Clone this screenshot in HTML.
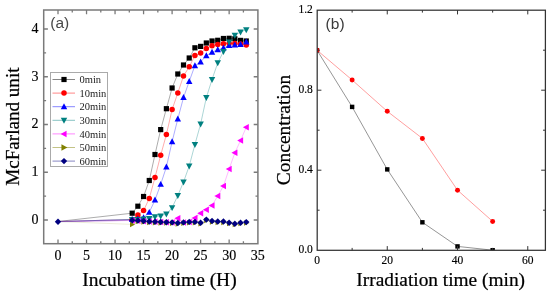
<!DOCTYPE html><html><head><meta charset="utf-8"><style>html,body{margin:0;padding:0;background:#fff;width:550px;height:294px;overflow:hidden}svg{display:block}text{font-family:"Liberation Serif","Times New Roman",serif;stroke-width:0.15px}text.t{stroke-width:0.24px}</style></head><body>
<svg width="550" height="294" viewBox="0 0 550 294">
<rect width="550" height="294" fill="#fff"/>
<defs><clipPath id="ca"><rect x="43.7" y="10.0" width="214.2" height="233.7"/></clipPath><clipPath id="cb"><rect x="317" y="10" width="228.4" height="240.2"/></clipPath></defs>
<g clip-path="url(#ca)">
<polyline points="58.00,221.50 132.17,213.20 137.87,206.20 143.57,196.50 149.28,180.50 154.99,154.50 160.69,129.60 166.39,108.70 172.10,88.00 177.81,74.00 183.51,65.00 189.22,58.00 194.92,47.80 200.62,46.40 206.33,43.00 212.03,41.00 217.74,40.30 223.44,38.50 229.15,38.30 234.85,38.80 240.56,40.40 246.27,41.00" fill="none" stroke="#000000" stroke-width="0.6" stroke-opacity="0.55"/>
<polyline points="58.00,221.50 132.17,219.50 137.87,215.00 143.57,210.60 149.28,198.40 154.99,177.50 160.69,155.30 166.39,134.50 172.10,109.60 177.81,93.00 183.51,76.00 189.22,66.80 194.92,55.60 200.62,53.00 206.33,48.40 212.03,45.80 217.74,44.50 223.44,43.80 229.15,43.20 234.85,43.50 240.56,44.00 246.27,45.00" fill="none" stroke="#ff0000" stroke-width="0.6" stroke-opacity="0.55"/>
<polyline points="58.00,221.50 132.17,219.50 137.87,219.00 143.57,217.70 149.28,212.30 154.99,200.00 160.69,184.30 166.39,167.00 172.10,141.70 177.81,119.00 183.51,97.50 189.22,81.40 194.92,65.60 200.62,61.90 206.33,55.70 212.03,52.20 217.74,49.70 223.44,48.00 229.15,45.40 234.85,45.00 240.56,44.50 246.27,42.00" fill="none" stroke="#0000ff" stroke-width="0.6" stroke-opacity="0.55"/>
<polyline points="58.00,221.50 132.17,219.50 137.87,219.50 143.57,219.00 149.28,218.50 154.99,216.80 160.69,216.00 166.39,214.00 172.10,207.70 177.81,195.60 183.51,182.00 189.22,166.00 194.92,144.50 200.62,124.00 206.33,97.60 212.03,79.50 217.74,62.90 223.44,51.50 229.15,42.00 234.85,35.30 240.56,32.00 246.27,29.80" fill="none" stroke="#008080" stroke-width="0.6" stroke-opacity="0.55"/>
<polyline points="58.00,221.50 132.17,220.50 137.87,220.80 143.57,221.20 149.28,221.50 154.99,221.80 160.69,222.00 166.39,222.20 172.10,222.40 177.81,218.20 183.51,222.40 189.22,221.90 194.92,217.90 200.62,213.20 206.33,209.70 212.03,205.50 217.74,196.00 223.44,186.00 229.15,169.00 234.85,152.80 240.56,140.50 246.27,127.20" fill="none" stroke="#ff00ff" stroke-width="0.6" stroke-opacity="0.45"/>
<polyline points="58.00,221.50 132.17,224.40 137.87,221.40 143.57,221.90 149.28,222.40 154.99,222.70 160.69,222.90 166.39,223.10 172.10,223.30 177.81,223.90 183.51,223.30 189.22,222.80 194.92,222.80 200.62,223.70 206.33,220.50 212.03,221.90 217.74,222.40 223.44,222.40 229.15,223.60 234.85,224.60 240.56,223.60 246.27,223.00" fill="none" stroke="#808000" stroke-width="0.6" stroke-opacity="0.25"/>
<polyline points="58.00,221.80 132.17,220.30 137.87,220.50 143.57,221.00 149.28,221.50 154.99,221.80 160.69,222.00 166.39,222.20 172.10,222.40 177.81,223.00 183.51,222.40 189.22,221.90 194.92,221.90 200.62,222.80 206.33,219.60 212.03,221.00 217.74,221.50 223.44,221.50 229.15,222.70 234.85,223.70 240.56,222.70 246.27,222.10" fill="none" stroke="#000080" stroke-width="0.6" stroke-opacity="0.3"/>
<rect x="129.57" y="210.60" width="5.20" height="5.20" fill="#000000"/>
<rect x="135.27" y="203.60" width="5.20" height="5.20" fill="#000000"/>
<rect x="140.97" y="193.90" width="5.20" height="5.20" fill="#000000"/>
<rect x="146.68" y="177.90" width="5.20" height="5.20" fill="#000000"/>
<rect x="152.39" y="151.90" width="5.20" height="5.20" fill="#000000"/>
<rect x="158.09" y="127.00" width="5.20" height="5.20" fill="#000000"/>
<rect x="163.79" y="106.10" width="5.20" height="5.20" fill="#000000"/>
<rect x="169.50" y="85.40" width="5.20" height="5.20" fill="#000000"/>
<rect x="175.21" y="71.40" width="5.20" height="5.20" fill="#000000"/>
<rect x="180.91" y="62.40" width="5.20" height="5.20" fill="#000000"/>
<rect x="186.62" y="55.40" width="5.20" height="5.20" fill="#000000"/>
<rect x="192.32" y="45.20" width="5.20" height="5.20" fill="#000000"/>
<rect x="198.03" y="43.80" width="5.20" height="5.20" fill="#000000"/>
<rect x="203.73" y="40.40" width="5.20" height="5.20" fill="#000000"/>
<rect x="209.44" y="38.40" width="5.20" height="5.20" fill="#000000"/>
<rect x="215.14" y="37.70" width="5.20" height="5.20" fill="#000000"/>
<rect x="220.84" y="35.90" width="5.20" height="5.20" fill="#000000"/>
<rect x="226.55" y="35.70" width="5.20" height="5.20" fill="#000000"/>
<rect x="232.25" y="36.20" width="5.20" height="5.20" fill="#000000"/>
<rect x="237.96" y="37.80" width="5.20" height="5.20" fill="#000000"/>
<rect x="243.67" y="38.40" width="5.20" height="5.20" fill="#000000"/>
<circle cx="132.17" cy="219.50" r="2.75" fill="#ff0000"/>
<circle cx="137.87" cy="215.00" r="2.75" fill="#ff0000"/>
<circle cx="143.57" cy="210.60" r="2.75" fill="#ff0000"/>
<circle cx="149.28" cy="198.40" r="2.75" fill="#ff0000"/>
<circle cx="154.99" cy="177.50" r="2.75" fill="#ff0000"/>
<circle cx="160.69" cy="155.30" r="2.75" fill="#ff0000"/>
<circle cx="166.39" cy="134.50" r="2.75" fill="#ff0000"/>
<circle cx="172.10" cy="109.60" r="2.75" fill="#ff0000"/>
<circle cx="177.81" cy="93.00" r="2.75" fill="#ff0000"/>
<circle cx="183.51" cy="76.00" r="2.75" fill="#ff0000"/>
<circle cx="189.22" cy="66.80" r="2.75" fill="#ff0000"/>
<circle cx="194.92" cy="55.60" r="2.75" fill="#ff0000"/>
<circle cx="200.62" cy="53.00" r="2.75" fill="#ff0000"/>
<circle cx="206.33" cy="48.40" r="2.75" fill="#ff0000"/>
<circle cx="212.03" cy="45.80" r="2.75" fill="#ff0000"/>
<circle cx="217.74" cy="44.50" r="2.75" fill="#ff0000"/>
<circle cx="223.44" cy="43.80" r="2.75" fill="#ff0000"/>
<circle cx="229.15" cy="43.20" r="2.75" fill="#ff0000"/>
<circle cx="234.85" cy="43.50" r="2.75" fill="#ff0000"/>
<circle cx="240.56" cy="44.00" r="2.75" fill="#ff0000"/>
<circle cx="246.27" cy="45.00" r="2.75" fill="#ff0000"/>
<polygon points="132.17,216.10 135.40,222.05 128.94,222.05" fill="#0000ff"/>
<polygon points="137.87,215.60 141.10,221.55 134.64,221.55" fill="#0000ff"/>
<polygon points="143.57,214.30 146.80,220.25 140.34,220.25" fill="#0000ff"/>
<polygon points="149.28,208.90 152.51,214.85 146.05,214.85" fill="#0000ff"/>
<polygon points="154.99,196.60 158.22,202.55 151.76,202.55" fill="#0000ff"/>
<polygon points="160.69,180.90 163.92,186.85 157.46,186.85" fill="#0000ff"/>
<polygon points="166.39,163.60 169.62,169.55 163.16,169.55" fill="#0000ff"/>
<polygon points="172.10,138.30 175.33,144.25 168.87,144.25" fill="#0000ff"/>
<polygon points="177.81,115.60 181.03,121.55 174.58,121.55" fill="#0000ff"/>
<polygon points="183.51,94.10 186.74,100.05 180.28,100.05" fill="#0000ff"/>
<polygon points="189.22,78.00 192.44,83.95 185.99,83.95" fill="#0000ff"/>
<polygon points="194.92,62.20 198.15,68.15 191.69,68.15" fill="#0000ff"/>
<polygon points="200.62,58.50 203.85,64.45 197.40,64.45" fill="#0000ff"/>
<polygon points="206.33,52.30 209.56,58.25 203.10,58.25" fill="#0000ff"/>
<polygon points="212.03,48.80 215.26,54.75 208.81,54.75" fill="#0000ff"/>
<polygon points="217.74,46.30 220.97,52.25 214.51,52.25" fill="#0000ff"/>
<polygon points="223.44,44.60 226.67,50.55 220.22,50.55" fill="#0000ff"/>
<polygon points="229.15,42.00 232.38,47.95 225.92,47.95" fill="#0000ff"/>
<polygon points="234.85,41.60 238.08,47.55 231.62,47.55" fill="#0000ff"/>
<polygon points="240.56,41.10 243.79,47.05 237.33,47.05" fill="#0000ff"/>
<polygon points="246.27,38.60 249.50,44.55 243.04,44.55" fill="#0000ff"/>
<polygon points="132.17,222.90 135.40,216.95 128.94,216.95" fill="#008080"/>
<polygon points="137.87,222.90 141.10,216.95 134.64,216.95" fill="#008080"/>
<polygon points="143.57,222.40 146.80,216.45 140.34,216.45" fill="#008080"/>
<polygon points="149.28,221.90 152.51,215.95 146.05,215.95" fill="#008080"/>
<polygon points="154.99,220.20 158.22,214.25 151.76,214.25" fill="#008080"/>
<polygon points="160.69,219.40 163.92,213.45 157.46,213.45" fill="#008080"/>
<polygon points="166.39,217.40 169.62,211.45 163.16,211.45" fill="#008080"/>
<polygon points="172.10,211.10 175.33,205.15 168.87,205.15" fill="#008080"/>
<polygon points="177.81,199.00 181.03,193.05 174.58,193.05" fill="#008080"/>
<polygon points="183.51,185.40 186.74,179.45 180.28,179.45" fill="#008080"/>
<polygon points="189.22,169.40 192.44,163.45 185.99,163.45" fill="#008080"/>
<polygon points="194.92,147.90 198.15,141.95 191.69,141.95" fill="#008080"/>
<polygon points="200.62,127.40 203.85,121.45 197.40,121.45" fill="#008080"/>
<polygon points="206.33,101.00 209.56,95.05 203.10,95.05" fill="#008080"/>
<polygon points="212.03,82.90 215.26,76.95 208.81,76.95" fill="#008080"/>
<polygon points="217.74,66.30 220.97,60.35 214.51,60.35" fill="#008080"/>
<polygon points="223.44,54.90 226.67,48.95 220.22,48.95" fill="#008080"/>
<polygon points="229.15,45.40 232.38,39.45 225.92,39.45" fill="#008080"/>
<polygon points="234.85,38.70 238.08,32.75 231.62,32.75" fill="#008080"/>
<polygon points="240.56,35.40 243.79,29.45 237.33,29.45" fill="#008080"/>
<polygon points="246.27,33.20 249.50,27.25 243.04,27.25" fill="#008080"/>
<polygon points="128.77,220.50 134.72,217.27 134.72,223.73" fill="#ff00ff"/>
<polygon points="134.47,220.80 140.42,217.57 140.42,224.03" fill="#ff00ff"/>
<polygon points="140.17,221.20 146.12,217.97 146.12,224.43" fill="#ff00ff"/>
<polygon points="145.88,221.50 151.83,218.27 151.83,224.73" fill="#ff00ff"/>
<polygon points="151.59,221.80 157.54,218.57 157.54,225.03" fill="#ff00ff"/>
<polygon points="157.29,222.00 163.24,218.77 163.24,225.23" fill="#ff00ff"/>
<polygon points="162.99,222.20 168.94,218.97 168.94,225.43" fill="#ff00ff"/>
<polygon points="168.70,222.40 174.65,219.17 174.65,225.63" fill="#ff00ff"/>
<polygon points="174.41,218.20 180.36,214.97 180.36,221.43" fill="#ff00ff"/>
<polygon points="180.11,222.40 186.06,219.17 186.06,225.63" fill="#ff00ff"/>
<polygon points="185.81,221.90 191.77,218.67 191.77,225.13" fill="#ff00ff"/>
<polygon points="191.52,217.90 197.47,214.67 197.47,221.13" fill="#ff00ff"/>
<polygon points="197.22,213.20 203.18,209.97 203.18,216.43" fill="#ff00ff"/>
<polygon points="202.93,209.70 208.88,206.47 208.88,212.93" fill="#ff00ff"/>
<polygon points="208.63,205.50 214.59,202.27 214.59,208.73" fill="#ff00ff"/>
<polygon points="214.34,196.00 220.29,192.77 220.29,199.23" fill="#ff00ff"/>
<polygon points="220.04,186.00 226.00,182.77 226.00,189.23" fill="#ff00ff"/>
<polygon points="225.75,169.00 231.70,165.77 231.70,172.23" fill="#ff00ff"/>
<polygon points="231.45,152.80 237.41,149.57 237.41,156.03" fill="#ff00ff"/>
<polygon points="237.16,140.50 243.11,137.27 243.11,143.73" fill="#ff00ff"/>
<polygon points="242.87,127.20 248.82,123.97 248.82,130.43" fill="#ff00ff"/>
<polygon points="135.06,224.40 130.00,221.65 130.00,227.15" fill="#808000"/>
<polygon points="140.76,221.40 135.70,218.65 135.70,224.15" fill="#808000"/>
<polygon points="146.46,221.90 141.41,219.15 141.41,224.65" fill="#808000"/>
<polygon points="152.17,222.40 147.11,219.65 147.11,225.15" fill="#808000"/>
<polygon points="157.88,222.70 152.82,219.95 152.82,225.45" fill="#808000"/>
<polygon points="163.58,222.90 158.52,220.15 158.52,225.65" fill="#808000"/>
<polygon points="169.28,223.10 164.23,220.35 164.23,225.85" fill="#808000"/>
<polygon points="174.99,223.30 169.93,220.55 169.93,226.05" fill="#808000"/>
<polygon points="180.69,223.90 175.64,221.15 175.64,226.65" fill="#808000"/>
<polygon points="186.40,223.30 181.34,220.55 181.34,226.05" fill="#808000"/>
<polygon points="192.10,222.80 187.05,220.05 187.05,225.55" fill="#808000"/>
<polygon points="197.81,222.80 192.75,220.05 192.75,225.55" fill="#808000"/>
<polygon points="203.51,223.70 198.46,220.95 198.46,226.45" fill="#808000"/>
<polygon points="209.22,220.50 204.16,217.75 204.16,223.25" fill="#808000"/>
<polygon points="214.92,221.90 209.87,219.15 209.87,224.65" fill="#808000"/>
<polygon points="220.63,222.40 215.57,219.65 215.57,225.15" fill="#808000"/>
<polygon points="226.33,222.40 221.28,219.65 221.28,225.15" fill="#808000"/>
<polygon points="232.04,223.60 226.98,220.85 226.98,226.35" fill="#808000"/>
<polygon points="237.74,224.60 232.69,221.85 232.69,227.35" fill="#808000"/>
<polygon points="243.45,223.60 238.39,220.85 238.39,226.35" fill="#808000"/>
<polygon points="249.16,223.00 244.10,220.25 244.10,225.75" fill="#808000"/>
<polygon points="58.00,218.60 61.20,221.80 58.00,225.00 54.80,221.80" fill="#000080"/>
<polygon points="132.17,217.10 135.37,220.30 132.17,223.50 128.97,220.30" fill="#000080"/>
<polygon points="137.87,217.30 141.07,220.50 137.87,223.70 134.67,220.50" fill="#000080"/>
<polygon points="143.57,217.80 146.77,221.00 143.57,224.20 140.38,221.00" fill="#000080"/>
<polygon points="149.28,218.30 152.48,221.50 149.28,224.70 146.08,221.50" fill="#000080"/>
<polygon points="154.99,218.60 158.19,221.80 154.99,225.00 151.79,221.80" fill="#000080"/>
<polygon points="160.69,218.80 163.89,222.00 160.69,225.20 157.49,222.00" fill="#000080"/>
<polygon points="166.39,219.00 169.59,222.20 166.39,225.40 163.19,222.20" fill="#000080"/>
<polygon points="172.10,219.20 175.30,222.40 172.10,225.60 168.90,222.40" fill="#000080"/>
<polygon points="177.81,219.80 181.00,223.00 177.81,226.20 174.61,223.00" fill="#000080"/>
<polygon points="183.51,219.20 186.71,222.40 183.51,225.60 180.31,222.40" fill="#000080"/>
<polygon points="189.22,218.70 192.41,221.90 189.22,225.10 186.02,221.90" fill="#000080"/>
<polygon points="194.92,218.70 198.12,221.90 194.92,225.10 191.72,221.90" fill="#000080"/>
<polygon points="200.62,219.60 203.82,222.80 200.62,226.00 197.43,222.80" fill="#000080"/>
<polygon points="206.33,216.40 209.53,219.60 206.33,222.80 203.13,219.60" fill="#000080"/>
<polygon points="212.03,217.80 215.23,221.00 212.03,224.20 208.84,221.00" fill="#000080"/>
<polygon points="217.74,218.30 220.94,221.50 217.74,224.70 214.54,221.50" fill="#000080"/>
<polygon points="223.44,218.30 226.64,221.50 223.44,224.70 220.25,221.50" fill="#000080"/>
<polygon points="229.15,219.50 232.35,222.70 229.15,225.90 225.95,222.70" fill="#000080"/>
<polygon points="234.85,220.50 238.05,223.70 234.85,226.90 231.66,223.70" fill="#000080"/>
<polygon points="240.56,219.50 243.76,222.70 240.56,225.90 237.36,222.70" fill="#000080"/>
<polygon points="246.27,218.90 249.47,222.10 246.27,225.30 243.07,222.10" fill="#000080"/>
</g>
<rect x="43.7" y="10.0" width="214.20" height="233.70" fill="none" stroke="#7a7a7a" stroke-width="1.5"/>
<path d="M58.00,243.7v-4.2M58.00,10.0v4.2M72.26,243.7v-2.4M72.26,10.0v2.4M86.53,243.7v-4.2M86.53,10.0v4.2M100.79,243.7v-2.4M100.79,10.0v2.4M115.05,243.7v-4.2M115.05,10.0v4.2M129.31,243.7v-2.4M129.31,10.0v2.4M143.57,243.7v-4.2M143.57,10.0v4.2M157.84,243.7v-2.4M157.84,10.0v2.4M172.10,243.7v-4.2M172.10,10.0v4.2M186.36,243.7v-2.4M186.36,10.0v2.4M200.62,243.7v-4.2M200.62,10.0v4.2M214.89,243.7v-2.4M214.89,10.0v2.4M229.15,243.7v-4.2M229.15,10.0v4.2M243.41,243.7v-2.4M243.41,10.0v2.4M43.7,220.00h4.2M257.9,220.00h-4.2M43.7,196.12h2.4M257.9,196.12h-2.4M43.7,172.25h4.2M257.9,172.25h-4.2M43.7,148.38h2.4M257.9,148.38h-2.4M43.7,124.50h4.2M257.9,124.50h-4.2M43.7,100.62h2.4M257.9,100.62h-2.4M43.7,76.75h4.2M257.9,76.75h-4.2M43.7,52.88h2.4M257.9,52.88h-2.4M43.7,29.00h4.2M257.9,29.00h-4.2" stroke="#7a7a7a" stroke-width="1.3" fill="none"/>
<text x="38.6" y="223.90" font-size="14" text-anchor="end" fill="#000" stroke="#000">0</text>
<text x="38.6" y="176.15" font-size="14" text-anchor="end" fill="#000" stroke="#000">1</text>
<text x="38.6" y="128.40" font-size="14" text-anchor="end" fill="#000" stroke="#000">2</text>
<text x="38.6" y="80.65" font-size="14" text-anchor="end" fill="#000" stroke="#000">3</text>
<text x="38.6" y="32.90" font-size="14" text-anchor="end" fill="#000" stroke="#000">4</text>
<text x="58.00" y="259.5" font-size="14" text-anchor="middle" fill="#000" stroke="#000">0</text>
<text x="86.53" y="259.5" font-size="14" text-anchor="middle" fill="#000" stroke="#000">5</text>
<text x="115.05" y="259.5" font-size="14" text-anchor="middle" fill="#000" stroke="#000">10</text>
<text x="143.57" y="259.5" font-size="14" text-anchor="middle" fill="#000" stroke="#000">15</text>
<text x="172.10" y="259.5" font-size="14" text-anchor="middle" fill="#000" stroke="#000">20</text>
<text x="200.62" y="259.5" font-size="14" text-anchor="middle" fill="#000" stroke="#000">25</text>
<text x="229.15" y="259.5" font-size="14" text-anchor="middle" fill="#000" stroke="#000">30</text>
<text x="257.68" y="259.5" font-size="14" text-anchor="middle" fill="#000" stroke="#000">35</text>
<text x="50.3" y="27.9" font-size="15.5" fill="#484848" style="font-family:'Liberation Sans',Arial,sans-serif">(a)</text>
<text class="t" x="159.45" y="286.2" font-size="19.45" text-anchor="middle" fill="#000" stroke="#000">Incubation time (H)</text>
<text class="t" transform="translate(19.3,126.6) rotate(-90)" font-size="19.1" text-anchor="middle" fill="#000" stroke="#000">McFarland unit</text>
<rect x="50.5" y="72.5" width="57" height="94" fill="#fff" stroke="#aaa" stroke-width="1"/>
<line x1="52.5" y1="79.50" x2="75" y2="79.50" stroke="#000000" stroke-width="0.8" stroke-opacity="0.6"/>
<rect x="61.40" y="76.90" width="5.20" height="5.20" fill="#000000"/>
<text x="79.5" y="83.10" font-size="10.5" fill="#222">0min</text>
<line x1="52.5" y1="93.10" x2="75" y2="93.10" stroke="#ff0000" stroke-width="0.8" stroke-opacity="0.6"/>
<circle cx="64.00" cy="93.10" r="2.75" fill="#ff0000"/>
<text x="79.5" y="96.70" font-size="10.5" fill="#222">10min</text>
<line x1="52.5" y1="106.70" x2="75" y2="106.70" stroke="#0000ff" stroke-width="0.8" stroke-opacity="0.6"/>
<polygon points="64.00,103.30 67.23,109.25 60.77,109.25" fill="#0000ff"/>
<text x="79.5" y="110.30" font-size="10.5" fill="#222">20min</text>
<line x1="52.5" y1="120.30" x2="75" y2="120.30" stroke="#008080" stroke-width="0.8" stroke-opacity="0.6"/>
<polygon points="64.00,123.70 67.23,117.75 60.77,117.75" fill="#008080"/>
<text x="79.5" y="123.90" font-size="10.5" fill="#222">30min</text>
<line x1="52.5" y1="133.90" x2="75" y2="133.90" stroke="#ff00ff" stroke-width="0.8" stroke-opacity="0.6"/>
<polygon points="60.60,133.90 66.55,130.67 66.55,137.13" fill="#ff00ff"/>
<text x="79.5" y="137.50" font-size="10.5" fill="#222">40min</text>
<line x1="52.5" y1="147.50" x2="75" y2="147.50" stroke="#808000" stroke-width="0.8" stroke-opacity="0.6"/>
<polygon points="67.40,147.50 61.45,144.27 61.45,150.73" fill="#808000"/>
<text x="79.5" y="151.10" font-size="10.5" fill="#222">50min</text>
<line x1="52.5" y1="161.10" x2="75" y2="161.10" stroke="#000080" stroke-width="0.8" stroke-opacity="0.6"/>
<polygon points="64.00,157.90 67.20,161.10 64.00,164.30 60.80,161.10" fill="#000080"/>
<text x="79.5" y="164.70" font-size="10.5" fill="#222">60min</text>
<g clip-path="url(#cb)">
<polyline points="317.00,50.20 352.13,106.90 387.26,169.40 422.39,222.30 457.52,246.40 492.65,250.20" fill="none" stroke="#000" stroke-width="0.7" stroke-opacity="0.6"/>
<polyline points="317.00,50.20 352.13,80.00 387.26,111.30 422.39,138.40 457.52,190.20 492.65,221.40" fill="none" stroke="#ff0000" stroke-width="0.7" stroke-opacity="0.55"/>
<rect x="314.79" y="47.99" width="4.42" height="4.42" fill="#000"/>
<rect x="349.92" y="104.69" width="4.42" height="4.42" fill="#000"/>
<rect x="385.05" y="167.19" width="4.42" height="4.42" fill="#000"/>
<rect x="420.18" y="220.09" width="4.42" height="4.42" fill="#000"/>
<rect x="455.31" y="244.19" width="4.42" height="4.42" fill="#000"/>
<rect x="490.44" y="247.99" width="4.42" height="4.42" fill="#000"/>
<circle cx="317.00" cy="50.20" r="2.48" fill="#ff0000"/>
<circle cx="352.13" cy="80.00" r="2.48" fill="#ff0000"/>
<circle cx="387.26" cy="111.30" r="2.48" fill="#ff0000"/>
<circle cx="422.39" cy="138.40" r="2.48" fill="#ff0000"/>
<circle cx="457.52" cy="190.20" r="2.48" fill="#ff0000"/>
<circle cx="492.65" cy="221.40" r="2.48" fill="#ff0000"/>
</g>
<rect x="317.2" y="10.2" width="228.20" height="240.10" fill="none" stroke="#333" stroke-width="1.25"/>
<path d="M352.13,250.3v-2.4M352.13,10.2v2.4M387.26,250.3v-4.2M387.26,10.2v4.2M422.39,250.3v-2.4M422.39,10.2v2.4M457.52,250.3v-4.2M457.52,10.2v4.2M492.65,250.3v-2.4M492.65,10.2v2.4M527.78,250.3v-4.2M527.78,10.2v4.2M317.2,210.20h2.4M545.4,210.20h-2.4M317.2,170.20h4.2M545.4,170.20h-4.2M317.2,130.20h2.4M545.4,130.20h-2.4M317.2,90.20h4.2M545.4,90.20h-4.2M317.2,50.20h2.4M545.4,50.20h-2.4" stroke="#333" stroke-width="1" fill="none"/>
<text x="312.8" y="252.90" font-size="11.5" text-anchor="end" fill="#000" stroke="#000">0.0</text>
<text x="312.8" y="172.90" font-size="11.5" text-anchor="end" fill="#000" stroke="#000">0.4</text>
<text x="312.8" y="92.90" font-size="11.5" text-anchor="end" fill="#000" stroke="#000">0.8</text>
<text x="312.8" y="12.90" font-size="11.5" text-anchor="end" fill="#000" stroke="#000">1.2</text>
<text x="317.00" y="263.5" font-size="11.5" text-anchor="middle" fill="#000" stroke="#000">0</text>
<text x="387.26" y="263.5" font-size="11.5" text-anchor="middle" fill="#000" stroke="#000">20</text>
<text x="457.52" y="263.5" font-size="11.5" text-anchor="middle" fill="#000" stroke="#000">40</text>
<text x="527.78" y="263.5" font-size="11.5" text-anchor="middle" fill="#000" stroke="#000">60</text>
<text x="325.6" y="29.3" font-size="15.5" fill="#3a3a3a" style="font-family:'Liberation Sans',Arial,sans-serif" text-anchor="start">(b)</text>
<text class="t" x="440.7" y="286.2" font-size="19.35" text-anchor="middle" fill="#000" stroke="#000">Irradiation time (min)</text>
<text class="t" transform="translate(290.2,130.0) rotate(-90)" font-size="19.5" text-anchor="middle" fill="#000" stroke="#000">Concentration</text>
</svg></body></html>
